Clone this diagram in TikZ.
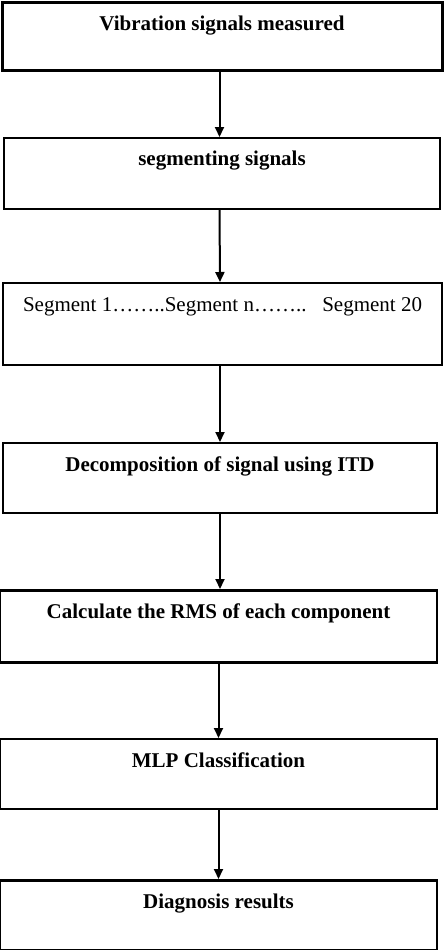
\documentclass[tikz,border=0pt]{standalone}
\usepackage{fontspec}
\setmainfont{Liberation Serif}
\usetikzlibrary{arrows.meta,positioning}

\begin{document}
\begin{tikzpicture}[x=1pt, y=1pt, ->, >={Triangle[length=10pt,width=9pt]},
      every node/.append style={font=\fontsize{21}{25}\selectfont\bfseries},
      box/.style={draw, rectangle, anchor=north, inner ysep=0pt, inner xsep=0pt,
                  text height=28pt, line width=2pt},
      flow/.style={line width=2pt}]
    \useasboundingbox (0,0) rectangle (444,-950);
    \node[box, line width=3pt, minimum width=440pt, text depth=40pt] (measured) at (222,-1) {Vibration signals measured};
    \node[box, line width=1.5pt, minimum width=436pt, text depth=43pt] (segmenting) at (222,-137) {segmenting signals};
    \node[box, minimum width=439pt, text depth=54pt, font=\fontsize{21}{25}\selectfont\mdseries] (segments) at (222.5,-282) {Segment 1……..Segment n……..\ \ \ Segment 20};
    \node[box, minimum width=434pt, text depth=42pt] (itd) at (220,-442) {Decomposition of signal using ITD};
    \node[box, line width=2.5pt, minimum width=437pt, text depth=44pt] (rms) at (218.5,-589) {Calculate the RMS of each component};
    \node[box, minimum width=437pt, text depth=42pt] (mlp) at (218.5,-738) {MLP Classification};
    \node[box, line width=2.5pt, minimum width=437pt, text depth=42pt] (results) at (218.5,-879) {Diagnosis results};
    \draw[flow] ([xshift=-2.5pt]measured.south) -- ([xshift=-2.5pt]segmenting.north);
    \draw[flow] ([xshift=-2.5pt]segmenting.south) -- ([xshift=-2.5pt]segments.north);
    \draw[flow] ([xshift=-2.5pt]segments.south) -- ([xshift=-2.5pt]segments.south |- itd.north);
    \draw[flow] (itd.south) -- (itd.south |- rms.north);
    \draw[flow] (rms.south) -- (mlp.north);
    \draw[flow] (mlp.south) -- (results.north);
  \end{tikzpicture}
\end{document}
